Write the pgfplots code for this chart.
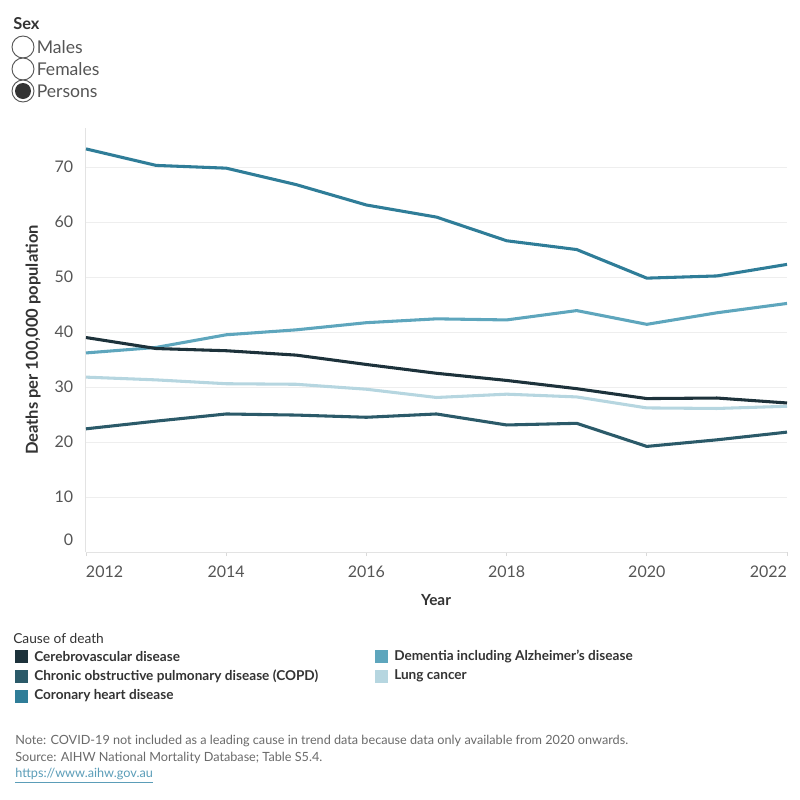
\documentclass[border=0pt]{standalone}
\usepackage{fontspec}
\setmainfont{Lato}
\usepackage{pgfplots}
\pgfplotsset{compat=1.18}

\definecolor{cCere}{HTML}{1D323B}
\definecolor{cCOPD}{HTML}{2B5A69}
\definecolor{cCHD}{HTML}{2F7D98}
\definecolor{cDem}{HTML}{5EA6BD}
\definecolor{cLung}{HTML}{B6D6E0}
\definecolor{tickgray}{HTML}{555555}
\definecolor{titlegray}{HTML}{333333}
\definecolor{notegray}{HTML}{6A6A6A}
\definecolor{gridgray}{HTML}{EEEEEE}
\definecolor{linkblue}{HTML}{5B9DB8}

\begin{document}
\begin{tikzpicture}
\useasboundingbox (0,0) rectangle (600pt,-600pt);

\begin{axis}[
  at={(64.5pt,-414pt)}, anchor=south west,
  scale only axis, width=525.75pt, height=318pt,
  xmin=2012, xmax=2022, ymin=0, ymax=77.1,
  xtick={2012,2014,...,2022},
  xticklabels={\makebox[0pt][l]{2012},2014,2016,2018,2020,\makebox[0pt][r]{2022}},
  ytick={0,10,...,70},
  yticklabels={\raisebox{9pt}[\height][\depth]{0},10,20,30,40,50,60,70},
  axis x line*=bottom, axis y line*=left,
  axis line style={draw=gray!22, line width=0.75pt},
  x tick style={draw=gray!30, line width=0.6pt},
  major tick length=3pt, xtick pos=bottom,
  ytick style={draw=none},
  tick align=outside,
  ymajorgrids, grid style={draw=gridgray, line width=0.75pt},
  ticklabel style={font=\fontsize{12}{14}\selectfont, text=tickgray, inner sep=0pt},
  yticklabel style={anchor=east, xshift=-6.5pt},
  xticklabel style={anchor=north, yshift=-7pt},
  clip=false,
  every axis plot/.append style={line width=2.3pt, line join=round, mark=none},
]
% Lung cancer
\addplot[cLung] coordinates {(2012,31.8)(2013,31.3)(2014,30.6)(2015,30.5)(2016,29.6)(2017,28.1)(2018,28.7)(2019,28.2)(2020,26.2)(2021,26.1)(2022,26.5)};
% Chronic obstructive pulmonary disease
\addplot[cCOPD] coordinates {(2012,22.4)(2013,23.8)(2014,25.1)(2015,24.9)(2016,24.5)(2017,25.1)(2018,23.1)(2019,23.4)(2020,19.2)(2021,20.4)(2022,21.8)};
% Dementia including Alzheimer's disease
\addplot[cDem] coordinates {(2012,36.2)(2013,37.2)(2014,39.5)(2015,40.4)(2016,41.7)(2017,42.4)(2018,42.2)(2019,43.9)(2020,41.4)(2021,43.5)(2022,45.2)};
% Cerebrovascular disease
\addplot[cCere] coordinates {(2012,39.0)(2013,37.0)(2014,36.6)(2015,35.8)(2016,34.1)(2017,32.5)(2018,31.2)(2019,29.7)(2020,27.9)(2021,28.0)(2022,27.1)};
% Coronary heart disease
\addplot[cCHD] coordinates {(2012,73.3)(2013,70.3)(2014,69.8)(2015,66.8)(2016,63.1)(2017,60.9)(2018,56.6)(2019,55.0)(2020,49.8)(2021,50.2)(2022,52.3)};
\end{axis}

\begin{scope}[x=0.75pt,y=-0.75pt]
  % axis titles
  \node[font=\bfseries\fontsize{11.5}{13}\selectfont, text=titlegray] at (436,600) {Year};
  \node[font=\bfseries\fontsize{12.4}{14}\selectfont, text=titlegray, rotate=90] at (33,340) {Deaths per 100,000 population};

  % sex selector
  \node[anchor=west, font=\bfseries\fontsize{12.3}{14}\selectfont, text=titlegray, inner sep=0pt] at (13,24) {Sex};
  \foreach \yy/\lab in {47/Males,69/Females,91/Persons}{
    \draw[tickgray, line width=0.7pt, fill=white] (23,\yy) circle (11);
    \node[anchor=west, font=\fontsize{13.2}{15}\selectfont, text=tickgray, inner sep=0pt] at (36.5,\yy) {\lab};
  }
  \fill[titlegray] (23,91) circle (8);

  % legend
  \node[anchor=west, font=\fontsize{10.3}{12}\selectfont, text=titlegray, inner sep=0pt] at (13,638) {Cause of death};
  \foreach \yy/\col/\lab in {656/cCere/Cerebrovascular disease,676/cCOPD/Chronic obstructive pulmonary disease (COPD),696/cCHD/Coronary heart disease}{
    \fill[\col] (15,\yy-6.5) rectangle (28,\yy+6.5);
    \node[anchor=west, font=\bfseries\fontsize{10.2}{12}\selectfont, text=titlegray, inner sep=0pt] at (34,\yy) {\lab};
  }
  \foreach \yy/\col/\lab in {656/cDem/Dementia including Alzheimer’s disease,676/cLung/Lung cancer}{
    \fill[\col] (375,\yy-6.5) rectangle (388,\yy+6.5);
    \node[anchor=west, font=\bfseries\fontsize{10.2}{12}\selectfont, text=titlegray, inner sep=0pt] at (394,\yy) {\lab};
  }

  % notes
  \node[anchor=west, font=\fontsize{9.5}{11}\selectfont, text=notegray, inner sep=0pt] at (15,741) {Note: COVID-19 not included as a leading cause in trend data because data only available from 2020 onwards.};
  \node[anchor=west, font=\fontsize{9.5}{11}\selectfont, text=notegray, inner sep=0pt] at (15,758) {Source: AIHW National Mortality Database; Table S5.4.};
  \node[anchor=west, font=\fontsize{9.5}{11}\selectfont, text=linkblue, inner sep=0pt] (lnk) at (15,774) {https://www.aihw.gov.au};
  \draw[linkblue, line width=0.5pt] ([yshift=-1.5pt]lnk.south west) -- ([yshift=-1.5pt]lnk.south east);
\end{scope}
\end{tikzpicture}
\end{document}
